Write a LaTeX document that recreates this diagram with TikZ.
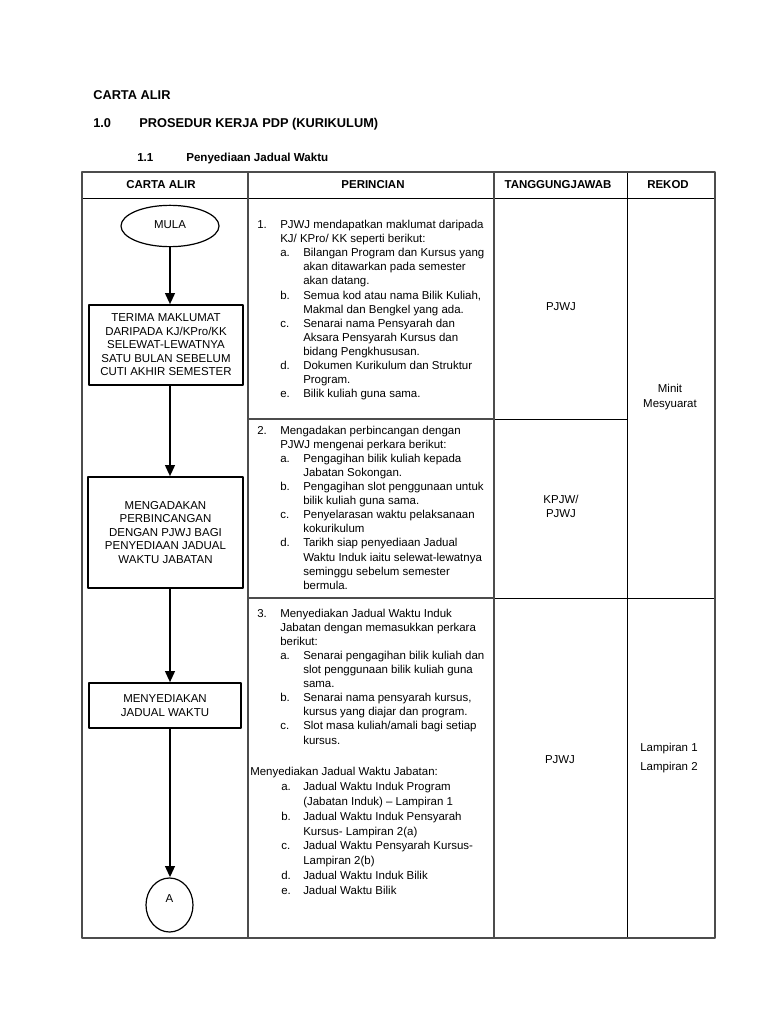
\documentclass[tikz,border=0pt]{standalone}
\usepackage{fontspec}
\setmainfont{Liberation Sans}
\usetikzlibrary{arrows.meta,shapes.geometric}

\newcommand{\celltext}{\fontsize{8.6}{10.56}\selectfont}
\newcommand{\boxtext}{\fontsize{8.6}{10.1}\selectfont}
\newcommand{\numitem}[2]{\makebox[17.25pt][l]{#1}#2}
\newcommand{\letitem}[2]{\hspace*{17.25pt}\makebox[17.25pt][l]{#1}#2}
\newcommand{\jbitem}[2]{\hspace*{23.25pt}\makebox[16.5pt][l]{#1}#2}
\newcommand{\contA}{\hspace*{17.25pt}}
\newcommand{\contB}{\hspace*{34.5pt}}
\newcommand{\contC}{\hspace*{39.75pt}}

\begin{document}
\begin{tikzpicture}[x=0.75pt, y=-0.75pt, line join=round,
    >={Triangle[length=8.5pt,width=7pt]},
    frameline/.style={line width=1.3pt, draw=black!70},
    gridline/.style={line width=0.7pt, draw=black},
    process/.style={draw, line width=0.8pt, rectangle, inner sep=0pt, align=center, font=\boxtext},
    terminal/.style={draw, line width=0.9pt, ellipse, inner sep=0pt, font=\boxtext},
    flowarrow/.style={->, line width=2.1pt},
    heading/.style={anchor=base west, inner sep=0pt, font=\fontsize{9.6}{11}\selectfont\bfseries},
    subheading/.style={anchor=base west, inner sep=0pt, font=\fontsize{8.7}{10}\selectfont\bfseries},
    colhead/.style={anchor=base, inner sep=0pt, font=\celltext\bfseries},
    celltxt/.style={anchor=north west, inner sep=0pt, font=\celltext},
    centred/.style={align=center, inner sep=0pt, font=\celltext}]
  \useasboundingbox (0,0) rectangle (768,1024);
  \fill[white] (0,0) rectangle (768,1024);

  % titles
  \node[heading] (title) at (93,99.6) {CARTA ALIR};
  \node[heading] (secnum) at (93,127.3) {1.0};
  \node[heading] (sectitle) at (139,127.3) {PROSEDUR KERJA PDP (KURIKULUM)};
  \node[subheading] (subnum) at (137,161.8) {1.1};
  \node[subheading] (subtitle) at (186,161.8) {Penyediaan Jadual Waktu};

  % table
  \draw[gridline] (82,198) -- (715,198);
  \draw[gridline] (627,172) -- (627,938);
  \draw[gridline] (494,419) -- (627,419);
  \draw[gridline] (494,598) -- (715,598);
  \draw[frameline] (82,172) rectangle (715,938);
  \draw[frameline] (248,172) -- (248,938);
  \draw[frameline] (494,172) -- (494,938);
  \draw[frameline] (248,419) -- (494,419);
  \draw[frameline] (248,598) -- (494,598);

  \node[colhead] (hcarta) at (161,188.1) {CARTA ALIR};
  \node[colhead] (hrinci) at (373,188.1) {PERINCIAN};
  \node[colhead] (htanggung) at (558,188.1) {TANGGUNGJAWAB};
  \node[colhead] (hrekod) at (668,188.1) {REKOD};

  % flowchart
  \node[terminal, minimum width=73.5pt, minimum height=31pt, text height=6.2pt, text depth=2pt] (mula) at (170,226) {MULA};
  \node[process, minimum width=115.5pt, minimum height=60pt] (terima) at (166,345)
    {TERIMA MAKLUMAT\\DARIPADA KJ/KPro/KK\\SELEWAT-LEWATNYA\\SATU BULAN SEBELUM\\CUTI AKHIR SEMESTER};
  \node[process, minimum width=116.25pt, minimum height=83.25pt] (bincang) at (165.5,532.5)
    {MENGADAKAN\\PERBINCANGAN\\DENGAN PJWJ BAGI\\PENYEDIAAN JADUAL\\WAKTU JABATAN};
  \node[process, minimum width=114pt, minimum height=33.75pt] (sedia) at (165,705.5)
    {MENYEDIAKAN\\JADUAL WAKTU};
  \node[terminal, minimum width=35.25pt, minimum height=40.5pt, text height=6.2pt, text depth=10pt] (sambung) at (169.5,905) {A};

  \draw[flowarrow] (mula.south) -- (mula.south |- terima.north);
  \draw[flowarrow] (mula.south |- terima.south) -- (mula.south |- bincang.north);
  \draw[flowarrow] (mula.south |- bincang.south) -- (mula.south |- sedia.north);
  \draw[flowarrow] (mula.south |- sedia.south) -- (mula.south |- sambung.north);

  % perincian
  \node[celltxt] (rinci1) at (257,218.5) {\begin{tabular}{@{}l@{}}
    \numitem{1.}{PJWJ mendapatkan maklumat daripada}\\
    \contA KJ/ KPro/ KK seperti berikut:\\
    \letitem{a.}{Bilangan Program dan Kursus yang}\\
    \contB akan ditawarkan pada semester\\
    \contB akan datang.\\
    \letitem{b.}{Semua kod atau nama Bilik Kuliah,}\\
    \contB Makmal dan Bengkel yang ada.\\
    \letitem{c.}{Senarai nama Pensyarah dan}\\
    \contB Aksara Pensyarah Kursus dan\\
    \contB bidang Pengkhususan.\\
    \letitem{d.}{Dokumen Kurikulum dan Struktur}\\
    \contB Program.\\
    \letitem{e.}{Bilik kuliah guna sama.}
  \end{tabular}};
  \node[celltxt] (rinci2) at (257,424.2) {\begin{tabular}{@{}l@{}}
    \numitem{2.}{Mengadakan perbincangan dengan}\\
    \contA PJWJ mengenai perkara berikut:\\
    \letitem{a.}{Pengagihan bilik kuliah kepada}\\
    \contB Jabatan Sokongan.\\
    \letitem{b.}{Pengagihan slot penggunaan untuk}\\
    \contB bilik kuliah guna sama.\\
    \letitem{c.}{Penyelarasan waktu pelaksanaan}\\
    \contB kokurikulum\\
    \letitem{d.}{Tarikh siap penyediaan Jadual}\\
    \contB Waktu Induk iaitu selewat-lewatnya\\
    \contB seminggu sebelum semester\\
    \contB bermula.
  \end{tabular}};
  \node[celltxt] (rinci3) at (257,607.2) {\begin{tabular}{@{}l@{}}
    \numitem{3.}{Menyediakan Jadual Waktu Induk}\\
    \contA Jabatan dengan memasukkan perkara\\
    \contA berikut:\\
    \letitem{a.}{Senarai pengagihan bilik kuliah dan}\\
    \contB slot penggunaan bilik kuliah guna\\
    \contB sama.\\
    \letitem{b.}{Senarai nama pensyarah kursus,}\\
    \contB kursus yang diajar dan program.\\
    \letitem{c.}{Slot masa kuliah/amali bagi setiap}\\
    \contB kursus.
  \end{tabular}};
  \node[celltxt, font=\fontsize{8.6}{11.2}\selectfont] (jadual) at (250,764.6) {\begin{tabular}{@{}l@{}}
    Menyediakan Jadual Waktu Jabatan:\\
    \jbitem{a.}{Jadual Waktu Induk Program}\\
    \contC(Jabatan Induk) -- Lampiran 1\\
    \jbitem{b.}{Jadual Waktu Induk Pensyarah}\\
    \contC Kursus- Lampiran 2(a)\\
    \jbitem{c.}{Jadual Waktu Pensyarah Kursus-}\\
    \contC Lampiran 2(b)\\
    \jbitem{d.}{Jadual Waktu Induk Bilik}\\
    \jbitem{e.}{Jadual Waktu Bilik}
  \end{tabular}};

  % tanggungjawab and rekod
  \node[centred] (tj1) at (561,307) {PJWJ};
  \node[centred, font=\fontsize{8.6}{10.1}\selectfont] (tj2) at (561,506.5) {KPJW/\\PJWJ};
  \node[centred] (tj3) at (560,760) {PJWJ};
  \node[centred, font=\fontsize{8.6}{11.25}\selectfont] (rk1) at (670,397.5) {Minit\\Mesyuarat};
  \node[centred, font=\fontsize{8.6}{14.25}\selectfont] (rk2) at (669,758.5) {Lampiran 1\\Lampiran 2};
\end{tikzpicture}
\end{document}
